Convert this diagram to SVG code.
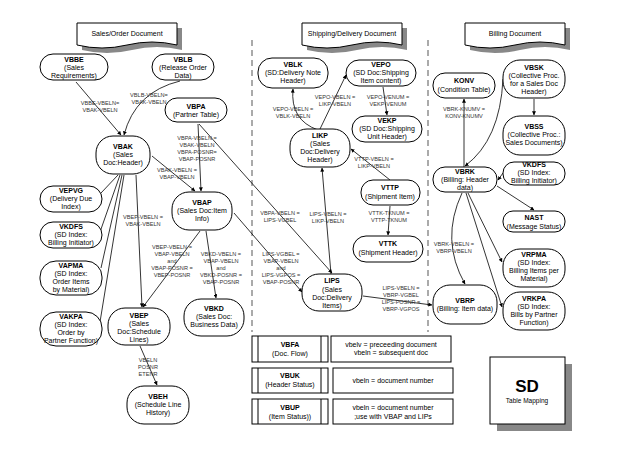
<svg xmlns="http://www.w3.org/2000/svg" width="638" height="452" viewBox="0 0 638 452">
<defs>
<marker id="a" viewBox="0 0 6 6" refX="5.5" refY="3" markerWidth="5" markerHeight="5" orient="auto-start-reverse"><path d="M0,0L6,3L0,6z" fill="#000"/></marker>
<style>
.n{fill:#fff;stroke:#000;stroke-width:1}
text{font-family:"Liberation Sans",Arial,sans-serif;fill:#000}
.t{font-size:7px;text-anchor:middle}
.b{font-weight:bold}
.l{font-size:5.6px;text-anchor:middle;fill:#333}
.e{fill:none;stroke:#000;stroke-width:0.8;marker-end:url(#a)}
.p{fill:none;stroke:#000;stroke-width:0.8}
.d{stroke:#aaa;stroke-width:2;stroke-dasharray:6,4}
.sh{fill:#888}
</style>
</defs>
<rect width="638" height="452" fill="#fff"/>
<line class="d" x1="252" y1="40" x2="252" y2="332"/>
<line class="d" x1="428" y1="40" x2="428" y2="332"/>
<g id="banners">
<path class="sh" d="M82,28h100v22q-25,-6 -50,0t-50,0z"/>
<path class="n" d="M77,23h100v22q-25,-6 -50,0t-50,0z"/>
<text class="t" x="127" y="36">Sales/Order Document</text>
<path class="sh" d="M307,28h100v22q-25,-6 -50,0t-50,0z"/>
<path class="n" d="M302,23h100v22q-25,-6 -50,0t-50,0z"/>
<text class="t" x="352" y="36">Shipping/Delivery Document</text>
<path class="sh" d="M470,28h100v22q-25,-6 -50,0t-50,0z"/>
<path class="n" d="M465,23h100v22q-25,-6 -50,0t-50,0z"/>
<text class="t" x="515" y="36">Billing Document</text>
</g>
<g id="connectors">
<line class="e" x1="76" y1="82" x2="121" y2="135"/>
<path class="e" d="M180,81Q135,92 124,135"/>
<line class="e" x1="198" y1="124" x2="201" y2="191"/>
<line class="e" x1="152" y1="156" x2="195" y2="191"/>
<line class="p" x1="118" y1="175" x2="101" y2="193"/>
<line class="p" x1="120" y1="175" x2="100" y2="232"/>
<line class="p" x1="122" y1="175" x2="101" y2="268"/>
<line class="p" x1="124" y1="175" x2="100" y2="322"/>
<line class="e" x1="136" y1="175" x2="142" y2="307"/>
<line class="e" x1="200" y1="231" x2="143" y2="307"/>
<line class="e" x1="206" y1="231" x2="216" y2="298"/>
<line class="e" x1="140" y1="346" x2="157" y2="385"/>
<line class="e" x1="199" y1="124" x2="332" y2="273"/>
<line class="e" x1="234" y1="213" x2="302" y2="292"/>
<path class="e" d="M318,130Q290,120 293,89"/>
<line class="e" x1="320" y1="129" x2="346" y2="75"/>
<line class="e" x1="383" y1="87" x2="387" y2="115"/>
<line class="e" x1="390" y1="180" x2="351" y2="149"/>
<line class="e" x1="390" y1="206" x2="388" y2="235"/>
<line class="e" x1="331" y1="274" x2="322" y2="168"/>
<line class="e" x1="363" y1="296" x2="432" y2="305"/>
<line class="e" x1="464" y1="167" x2="464" y2="99"/>
<path class="e" d="M503,79Q500,140 465,166"/>
<line class="e" x1="534" y1="99" x2="534" y2="115"/>
<line class="e" x1="503" y1="173" x2="498" y2="180"/>
<line class="e" x1="497" y1="186" x2="534" y2="210"/>
<line class="e" x1="468" y1="193" x2="502" y2="262"/>
<line class="e" x1="466" y1="193" x2="502" y2="307"/>
<path class="e" d="M462,193Q440,240 465,284"/>
</g>
<g id="labels">
<text class="l" x="100" y="105">VBBE-VBELN=</text><text class="l" x="100" y="112">VBAK-VBELN</text>
<text class="l" x="149" y="97">VBLB-VBELN=</text><text class="l" x="149" y="104">VBAK-VBELN</text>
<text class="l" x="197" y="140">VBPA-VBELN =</text><text class="l" x="197" y="147">VBAK-VBELN</text><text class="l" x="197" y="154">VBPA-POSNR=</text><text class="l" x="197" y="161">VBAP-POSNR</text>
<text class="l" x="177" y="172">VBAK-VBELN =</text><text class="l" x="177" y="179">VBAP-VBELN</text>
<text class="l" x="143" y="219">VBEP-VBELN =</text><text class="l" x="143" y="226">VBAK-VBELN</text>
<text class="l" x="172" y="249">VBEP-VBELN =</text><text class="l" x="172" y="256">VBAP-VBELN</text><text class="l" x="172" y="263">and</text><text class="l" x="172" y="270">VBAP-POSNR =</text><text class="l" x="172" y="277">VBEP-POSNR</text>
<text class="l" x="221" y="256">VBKD-VBELN =</text><text class="l" x="221" y="263">VBAP-VBELN</text><text class="l" x="221" y="270">and</text><text class="l" x="221" y="277">VBKD-POSNR =</text><text class="l" x="221" y="284">VBAP-POSNR</text>
<text class="l" x="148" y="362">VBELN</text><text class="l" x="148" y="369">POSNR</text><text class="l" x="148" y="376">ETENR</text>
<text class="l" x="280" y="215">VBPA-VBELN =</text><text class="l" x="280" y="222">LIPS-VGBEL</text>
<text class="l" x="281" y="256">LIPS-VGBEL =</text><text class="l" x="281" y="263">VBAP-VBELN</text><text class="l" x="281" y="270">and</text><text class="l" x="281" y="277">LIPS-VGPOS =</text><text class="l" x="281" y="284">VBAP-POSNR</text>
<text class="l" x="293" y="111">VEPO-VBELN =</text><text class="l" x="293" y="118">VBLK-VBELN</text>
<text class="l" x="335" y="99">VEPO-VBELN =</text><text class="l" x="335" y="106">LIKP-VBELN</text>
<text class="l" x="388" y="99">VEPO-VENUM =</text><text class="l" x="388" y="106">VEKP-VENUM</text>
<text class="l" x="374" y="161">VTTP-VBELN =</text><text class="l" x="374" y="168">LIKP-VBELN</text>
<text class="l" x="389" y="215">VTTK-TKNUM =</text><text class="l" x="389" y="222">VTTP-TKNUM</text>
<text class="l" x="328" y="216">LIPS-VBELN =</text><text class="l" x="328" y="223">LIKP-VBELN</text>
<text class="l" x="401" y="290">LIPS-VBELN =</text><text class="l" x="401" y="297">VBRP-VGBEL</text><text class="l" x="401" y="304">LIPS-POSNR =</text><text class="l" x="401" y="311">VBRP-VGPOS</text>
<text class="l" x="464" y="111">VBRK-KNUMV =</text><text class="l" x="464" y="118">KONV-KNUMV</text>
<text class="l" x="454" y="246">VBRK-VBELN =</text><text class="l" x="454" y="253">VBRP-VBELN</text>
</g>
<g id="VBBE"><rect class="n" x="40" y="54" width="68" height="26" rx="13"/><text class="t b" x="74" y="62">VBBE</text><text class="t" x="74" y="70">(Sales</text><text class="t" x="74" y="78">Requirements)</text></g>
<g id="VBLB"><rect class="n" x="152" y="54" width="62" height="26" rx="13"/><text class="t b" x="183" y="62">VBLB</text><text class="t" x="183" y="70">(Release Order</text><text class="t" x="183" y="78">Data)</text></g>
<g id="VBPA"><rect class="n" x="165" y="98" width="62" height="24" rx="12"/><text class="t b" x="196" y="109">VBPA</text><text class="t" x="196" y="117">(Partner Table)</text></g>
<g id="VBAK"><rect class="n" x="96" y="136" width="54" height="38" rx="17"/><text class="t b" x="123" y="149">VBAK</text><text class="t" x="123" y="157">(Sales</text><text class="t" x="123" y="165">Doc:Header)</text></g>
<g id="VEPVG"><rect class="n" x="40" y="186" width="62" height="26" rx="13"/><text class="t b" x="71" y="193">VEPVG</text><text class="t" x="71" y="201">(Delivery Due</text><text class="t" x="71" y="209">Index)</text></g>
<g id="VKDFS"><rect class="n" x="40" y="222" width="62" height="26" rx="13"/><text class="t b" x="71" y="229">VKDFS</text><text class="t" x="71" y="237">(SD Index:</text><text class="t" x="71" y="245">Billing Initiator)</text></g>
<g id="VAPMA"><rect class="n" x="40" y="261" width="62" height="34" rx="16"/><text class="t b" x="71" y="268">VAPMA</text><text class="t" x="71" y="276">(SD Index:</text><text class="t" x="71" y="284">Order Items</text><text class="t" x="71" y="292">by Material)</text></g>
<g id="VAKPA"><rect class="n" x="40" y="312" width="62" height="34" rx="16"/><text class="t b" x="71" y="319">VAKPA</text><text class="t" x="71" y="327">(SD Index:</text><text class="t" x="71" y="335">Order by</text><text class="t" x="71" y="343">Partner Function)</text></g>
<g id="VBAP"><rect class="n" x="172" y="192" width="60" height="38" rx="17"/><text class="t b" x="202" y="205">VBAP</text><text class="t" x="202" y="213">(Sales Doc:Item</text><text class="t" x="202" y="221">Info)</text></g>
<g id="VBEP"><rect class="n" x="108" y="308" width="62" height="37" rx="17"/><text class="t b" x="139" y="318">VBEP</text><text class="t" x="139" y="326">(Sales</text><text class="t" x="139" y="334">Doc:Schedule</text><text class="t" x="139" y="342">Lines)</text></g>
<g id="VBKD"><rect class="n" x="184" y="299" width="60" height="37" rx="17"/><text class="t b" x="214" y="311">VBKD</text><text class="t" x="214" y="319">(Sales Doc:</text><text class="t" x="214" y="327">Business Data)</text></g>
<g id="VBEH"><rect class="n" x="127" y="386" width="62" height="38" rx="17"/><text class="t b" x="158" y="399">VBEH</text><text class="t" x="158" y="407">(Schedule Line</text><text class="t" x="158" y="415">History)</text></g>
<g id="VBLK"><rect class="n" x="258" y="58" width="70" height="30" rx="14"/><text class="t b" x="293" y="67">VBLK</text><text class="t" x="293" y="75">(SD:Delivery Note</text><text class="t" x="293" y="83">Header)</text></g>
<g id="VEPO"><rect class="n" x="346" y="60" width="70" height="26" rx="13"/><text class="t b" x="381" y="67">VEPO</text><text class="t" x="381" y="75">(SD Doc:Shipping</text><text class="t" x="381" y="83">Item content)</text></g>
<g id="VEKP"><rect class="n" x="352" y="116" width="70" height="26" rx="13"/><text class="t b" x="387" y="123">VEKP</text><text class="t" x="387" y="131">(SD Doc:Shipping</text><text class="t" x="387" y="139">Unit Header)</text></g>
<g id="LIKP"><rect class="n" x="290" y="129" width="60" height="38" rx="17"/><text class="t b" x="320" y="138">LIKP</text><text class="t" x="320" y="146">(Sales</text><text class="t" x="320" y="154">Doc:Delivery</text><text class="t" x="320" y="162">Header)</text></g>
<g id="VTTP"><rect class="n" x="361" y="180" width="59" height="25" rx="12"/><text class="t b" x="390" y="190">VTTP</text><text class="t" x="390" y="199">(Shipment Item)</text></g>
<g id="VTTK"><rect class="n" x="353" y="236" width="70" height="26" rx="13"/><text class="t b" x="388" y="246">VTTK</text><text class="t" x="388" y="255">(Shipment Header)</text></g>
<g id="LIPS"><rect class="n" x="302" y="274" width="60" height="37" rx="17"/><text class="t b" x="332" y="283">LIPS</text><text class="t" x="332" y="292">(Sales</text><text class="t" x="332" y="300">Doc:Delivery</text><text class="t" x="332" y="308">Items)</text></g>
<g id="KONV"><rect class="n" x="433" y="73" width="62" height="25" rx="12"/><text class="t b" x="464" y="83">KONV</text><text class="t" x="464" y="92">(Condition Table)</text></g>
<g id="VBSK"><rect class="n" x="503" y="60" width="62" height="38" rx="17"/><text class="t b" x="534" y="70">VBSK</text><text class="t" x="534" y="78">(Collective Proc.</text><text class="t" x="534" y="86">for a Sales Doc</text><text class="t" x="534" y="94">Header)</text></g>
<g id="VBSS"><rect class="n" x="503" y="116" width="62" height="39" rx="17"/><text class="t b" x="534" y="129">VBSS</text><text class="t" x="534" y="137">(Collective Proc.:</text><text class="t" x="534" y="145">Sales Documents)</text></g>
<g id="VKDFS2"><rect class="n" x="503" y="162" width="62" height="23" rx="11"/><text class="t b" x="534" y="167">VKDFS</text><text class="t" x="534" y="175">(SD Index:</text><text class="t" x="534" y="183">Billing Initiator)</text></g>
<g id="VBRK"><rect class="n" x="433" y="167" width="64" height="25" rx="12"/><text class="t b" x="465" y="174">VBRK</text><text class="t" x="465" y="182">(Billing: Header</text><text class="t" x="465" y="190">data)</text></g>
<g id="NAST"><rect class="n" x="503" y="211" width="62" height="21" rx="10"/><text class="t b" x="534" y="220">NAST</text><text class="t" x="534" y="229">(Message Status)</text></g>
<g id="VRPMA"><rect class="n" x="503" y="249" width="62" height="38" rx="17"/><text class="t b" x="534" y="257">VRPMA</text><text class="t" x="534" y="265">(SD Index:</text><text class="t" x="534" y="273">Billing Items per</text><text class="t" x="534" y="281">Material)</text></g>
<g id="VRKPA"><rect class="n" x="503" y="292" width="62" height="38" rx="17"/><text class="t b" x="534" y="301">VRKPA</text><text class="t" x="534" y="309">(SD Index:</text><text class="t" x="534" y="317">Bills by Partner</text><text class="t" x="534" y="325">Function)</text></g>
<g id="VBRP"><rect class="n" x="433" y="285" width="64" height="39" rx="17"/><text class="t b" x="465" y="303">VBRP</text><text class="t" x="465" y="311">(Billing: Item data)</text></g>
<g id="VBFA"><rect class="n" x="252" y="336" width="76" height="26"/><line x1="258" y1="336" x2="258" y2="362" stroke="#000"/><line x1="321" y1="336" x2="321" y2="362" stroke="#000"/><text class="t b" x="290" y="347">VBFA</text><text class="t" x="290" y="356">(Doc. Flow)</text>
<rect class="n" x="331" y="336" width="120" height="26"/><text class="t" x="391" y="347">vbelv = preceeding document</text><text class="t" x="391" y="355">vbeln = subsequent doc</text></g>
<g id="VBUK"><rect class="n" x="252" y="368" width="76" height="25"/><line x1="258" y1="368" x2="258" y2="393" stroke="#000"/><line x1="321" y1="368" x2="321" y2="393" stroke="#000"/><text class="t b" x="290" y="378">VBUK</text><text class="t" x="290" y="387">(Header Status)</text>
<rect class="n" x="333" y="368" width="120" height="25"/><text class="t" x="393" y="383">vbeln = document number</text></g>
<g id="VBUP"><rect class="n" x="252" y="399" width="76" height="25"/><line x1="258" y1="399" x2="258" y2="424" stroke="#000"/><line x1="321" y1="399" x2="321" y2="424" stroke="#000"/><text class="t b" x="290" y="410">VBUP</text><text class="t" x="290" y="419">(Item Status))</text>
<rect class="n" x="333" y="399" width="120" height="25"/><text class="t" x="393" y="410">vbeln = document number</text><text class="t" x="393" y="419">;use with VBAP and LIPs</text></g>
<g id="SD"><rect class="sh" x="497" y="364" width="75" height="67"/><rect class="n" x="490" y="357" width="75" height="67"/><text x="527" y="392" font-size="17" font-weight="bold" text-anchor="middle">SD</text><text x="527" y="403" font-size="6.5" text-anchor="middle">Table Mapping</text></g>
</svg>
